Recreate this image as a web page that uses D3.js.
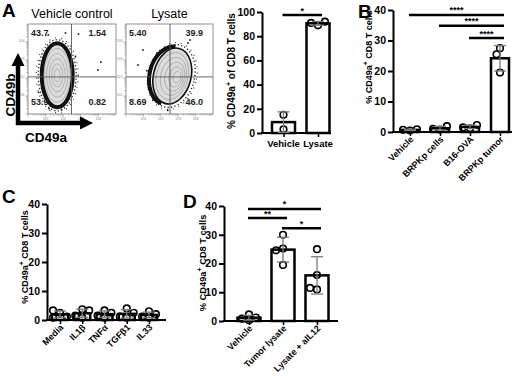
<!DOCTYPE html>
<meta charset="utf-8" />
<style>
  body { margin: 0; background: #fff; }
  svg { font-family: "Liberation Sans", Arial, sans-serif; }
</style>
<body>
<script src="https://d3js.org/d3.v7.min.js"></script>
<script>
// ---- panel A : flow plots (axes in log decades 0..5)
const flowTitles = ["Vehicle control", "Lysate"];
const flowQuadrants = [["43.7", "1.54", "53.9", "0.82"], ["5.40", "39.9", "8.69", "46.0"]];
const flowGates = [[2.47, 2.06], [2.53, 2.06]];
const flowBlobs = [
  { cx: 1.66, cy: 2.15, rx: 0.88, ry: 1.78, tilt: 0 },
  { cx: 2.66, cy: 2.11, rx: 1.08, ry: 1.58, tilt: 14 }
];
const contourLevels = [0.84, 0.68, 0.52, 0.36, 0.2];
const flowOutliers = [
  [[1.15, 4.39], [2.13, 4.5], [2.87, 4.44], [3.97, 2.44], [4.14, 2.89], [1.9, 0.25], [1.2, 0.3], [0.6, 1.2], [2.7, 3.2]],
  [[0.98, 3.56], [0.69, 2.72], [3.56, 3.94], [3.68, 4.11], [1.78, 3.39], [1.38, 1.78], [1.55, 0.78], [2.4, 0.2], [1.2, 2.4]]
];

// ---- panel A : bar chart
const aCats = ["Vehicle", "Lysate"];
const aPoints = [[15, 3], [89, 91, 92]];
const aTicks = [0, 20, 40, 60, 80, 100];
const aSig = [{ a: 0, b: 1, v: 97.5, lab: "*" }];

// ---- panel B
const bCats = ["Vehicle", "BRPKp cells", "B16-OVA", "BRPKp tumor"];
const bPoints = [[0.5, 0.7, 0.9], [0.8, 1.0, 1.9], [1.2, 1.5, 2.3], [27.5, 25.5, 19.5]];
const bTicks = [0, 10, 20, 30, 40];
const bSig = [
  { a: 0, b: 3, v: 38.4, lab: "****" },
  { a: 1, b: 3, v: 34.8, lab: "****" },
  { a: 2, b: 3, v: 30.8, lab: "****" }
];

// ---- panel C
const cCats = ["Media", "IL1\u03b2", "TNF\u03b1", "TGF\u03b21", "IL33"];
const cPoints = [
  [2.5, 0.8, 1.2, 3.3],
  [3.7, 0.8, 1.5, 3.3],
  [3.3, 0.8, 1.5, 2.5],
  [4.0, 0.8, 1.2, 2.5],
  [3.0, 0.8, 1.2, 2.0]
];
const cTicks = [0, 10, 20, 30, 40];

// ---- panel D
const dCats = ["Vehicle", "Tumor lysate", "Lysate + aIL12"];
const dPoints = [[0.3, 0.8, 1.2, 2.3], [30, 25.2, 24.6, 19.5], [25, 16, 11, 11.5]];
const dTicks = [0, 10, 20, 30, 40];
const dSig = [
  { a: 0, b: 2, v: 39, lab: "*" },
  { a: 0, b: 1, v: 35.8, lab: "**" },
  { a: 1, b: 2, v: 32.3, lab: "*" }
];

const svg = d3.select("body").append("svg").attr("width", 520).attr("height", 376);

// panel letters
[["A", 2, 17], ["B", 358, 18], ["C", 2, 203], ["D", 183, 208]].forEach(p => {
  svg.append("text").attr("x", p[1]).attr("y", p[2]).text(p[0])
    .style("font-size", "19px").style("font-weight", "bold");
});

// ---------- flow plots
const flowBoxes = [{ x0: 28, x1: 116, y0: 24, y1: 114 }, { x0: 126, x1: 213, y0: 24, y1: 114 }];

flowTitles.forEach((t, i) => {
  const b = flowBoxes[i];
  const fx = d3.scaleLinear().domain([0, 5]).range([b.x0, b.x1]);
  const fy = d3.scaleLinear().domain([0, 5]).range([b.y1, b.y0]);
  const g = svg.append("g");

  g.append("text").attr("x", (b.x0 + b.x1) / 2).attr("y", b.y0 - 6)
    .attr("text-anchor", "middle").style("font-size", "12.5px").text(t);

  // minor log ticks on left and bottom
  const tk = [];
  for (let dcd = 0; dcd < 5; dcd++) for (let m = 1; m < 10; m++) tk.push({ v: dcd + Math.log10(m), major: m === 1 });
  g.selectAll(".tx").data(tk).join("line")
    .attr("x1", d => fx(d.v)).attr("x2", d => fx(d.v))
    .attr("y1", b.y1).attr("y2", d => b.y1 + (d.major ? 3 : 1.5))
    .attr("stroke", "#999").attr("stroke-width", 0.6);
  g.selectAll(".ty").data(tk).join("line")
    .attr("y1", d => fy(d.v)).attr("y2", d => fy(d.v))
    .attr("x1", b.x0).attr("x2", d => b.x0 - (d.major ? 3 : 1.5))
    .attr("stroke", "#999").attr("stroke-width", 0.6);
  g.selectAll(".tl").data([1, 2, 3, 4]).join("text")
    .attr("x", d => fx(d)).attr("y", b.y1 + 6).attr("text-anchor", "middle")
    .style("font-size", "3.5px").attr("fill", "#888").text(d => "10" + d);
  g.selectAll(".tly").data([1, 2, 3, 4]).join("text")
    .attr("x", b.x0 - 3.5).attr("y", d => fy(d)).attr("text-anchor", "end")
    .style("font-size", "3.5px").attr("fill", "#888").text(d => "10" + d);

  // population blob
  const bl = flowBlobs[i];
  const sx = fx(1) - fx(0), sy = fy(0) - fy(1);
  const ccx = fx(bl.cx), ccy = fy(bl.cy);
  const RX = bl.rx * sx, RY = bl.ry * sy;
  const bg = g.append("g").attr("transform", `rotate(${bl.tilt},${ccx},${ccy})`);
  // scattered events outside the dense core
  bg.append("ellipse").attr("cx", ccx).attr("cy", ccy).attr("rx", RX + 3.5).attr("ry", RY + 3.5)
    .attr("fill", "none").attr("stroke", "#222").attr("stroke-width", 1.4).attr("stroke-dasharray", "1.2 2.3");
  bg.append("ellipse").attr("cx", ccx).attr("cy", ccy).attr("rx", RX + 5.5).attr("ry", RY + 5.5)
    .attr("fill", "none").attr("stroke", "#333").attr("stroke-width", 1.1).attr("stroke-dasharray", "1 5");
  // dense black rim
  bg.append("ellipse").attr("cx", ccx).attr("cy", ccy).attr("rx", RX).attr("ry", RY)
    .attr("fill", "#dcdcdc").attr("stroke", "#111").attr("stroke-width", i === 0 ? 4 : 1.6);
  if (i === 1) {
    const cid = "clipL" + i;
    svg.append("clipPath").attr("id", cid).append("rect")
      .attr("x", ccx - 40).attr("y", ccy - 40).attr("width", 36).attr("height", 80);
    bg.append("ellipse").attr("cx", ccx - 2).attr("cy", ccy).attr("rx", RX + 2).attr("ry", RY + 1)
      .attr("fill", "none").attr("stroke", "#111").attr("stroke-width", 4)
      .attr("clip-path", `url(#${cid})`);
  }
  bg.selectAll(".lvl").data(contourLevels).join("ellipse")
    .attr("cx", (d, j) => ccx + (i === 1 ? j * 1.2 : 0)).attr("cy", ccy)
    .attr("rx", d => d * RX).attr("ry", d => d * RY)
    .attr("fill", "none").attr("stroke", "#a0a0a0").attr("stroke-width", 0.7);

  // outlier events
  g.selectAll(".out").data(flowOutliers[i]).join("rect")
    .attr("x", d => fx(d[0]) - 0.8).attr("y", d => fy(d[1]) - 0.8)
    .attr("width", 1.6).attr("height", 1.6).attr("fill", "#111");

  // box + gates
  g.append("rect").attr("x", b.x0).attr("y", b.y0).attr("width", b.x1 - b.x0).attr("height", b.y1 - b.y0)
    .attr("fill", "none").attr("stroke", "#777").attr("stroke-width", 0.8);
  g.append("line").attr("x1", fx(flowGates[i][0])).attr("x2", fx(flowGates[i][0]))
    .attr("y1", b.y0).attr("y2", b.y1).attr("stroke", "#555").attr("stroke-width", 0.9);
  g.append("line").attr("y1", fy(flowGates[i][1])).attr("y2", fy(flowGates[i][1]))
    .attr("x1", b.x0).attr("x2", b.x1).attr("stroke", "#555").attr("stroke-width", 0.9);

  const q = flowQuadrants[i];
  const qpos = [[b.x0 + 3, b.y0 + 12, "start"], [b.x1 - 10, b.y0 + 12, "end"],
                [b.x0 + 3, b.y1 - 9, "start"], [b.x1 - 10, b.y1 - 9, "end"]];
  q.forEach((s, k) => {
    g.append("text").attr("x", qpos[k][0]).attr("y", qpos[k][1]).attr("text-anchor", qpos[k][2])
      .style("font-size", "9px").style("font-weight", "bold").attr("fill", "#222").text(s);
  });
});

// axis arrows
const arr = svg.append("g");
arr.append("line").attr("x1", 18).attr("y1", 125).attr("x2", 18).attr("y2", 64)
  .attr("stroke", "#000").attr("stroke-width", 4.5);
arr.append("polygon").attr("points", "18,53 11.5,66 24.5,66").attr("fill", "#000");
arr.append("line").attr("x1", 16).attr("y1", 123).attr("x2", 80).attr("y2", 123)
  .attr("stroke", "#000").attr("stroke-width", 4.5);
arr.append("polygon").attr("points", "93,123 80,116.5 80,129.5").attr("fill", "#000");
svg.append("text").attr("transform", "translate(15,95) rotate(-90)").attr("text-anchor", "middle")
  .style("font-size", "13.5px").style("font-weight", "bold").text("CD49b");
svg.append("text").attr("x", 25).attr("y", 142)
  .style("font-size", "13.5px").style("font-weight", "bold").text("CD49a");

// ---------- bar panels
function swarm(vals, cx, y, r) {
  const placed = [];
  return vals.map(v => {
    const py = y(v);
    const cands = [0, -1, 1, -2, 2, -3, 3];
    let px = cx;
    for (const k of cands) {
      const tx = cx + k * r * 1.05;
      if (placed.every(p => Math.hypot(p[0] - tx, p[1] - py) >= 2 * r - 0.3)) { px = tx; break; }
    }
    placed.push([px, py]);
    return [px, py];
  });
}

function barPanel(cfg) {
  const g = svg.append("g");
  const y = d3.scaleLinear().domain([0, 40]).range([cfg.yBottom, cfg.yTop]);
  if (cfg.domain) y.domain(cfg.domain);
  const x = d3.scalePoint().domain(cfg.cats).range(cfg.centers);

  const ya = g.append("g").attr("transform", `translate(${cfg.xAxis},0)`)
    .call(d3.axisLeft(y).tickValues(cfg.ticks).tickSize(5).tickSizeOuter(0).tickPadding(2));
  ya.select(".domain").attr("stroke-width", 2);
  ya.selectAll(".tick line").attr("stroke-width", 2);
  ya.selectAll(".tick text").style("font-size", "10.5px").style("font-weight", "bold")
    .style("font-family", "Liberation Sans, Arial, sans-serif").attr("fill", "#000");

  // x axis
  g.append("line").attr("x1", cfg.xAxis - 1).attr("x2", cfg.xEnd)
    .attr("y1", y(0)).attr("y2", y(0)).attr("stroke", "#000").attr("stroke-width", 2);
  const xa = g.append("g").attr("transform", `translate(0,${y(0)})`)
    .call(d3.axisBottom(x).tickSize(4).tickFormat(""));
  xa.select(".domain").remove();
  xa.selectAll(".tick line").attr("stroke-width", 1.5);

  const stats = cfg.points.map((p, i) => ({ c: cfg.cats[i], m: d3.mean(p), sd: d3.deviation(p), p }));

  g.selectAll(".bar").data(stats).join("rect")
    .attr("x", d => x(d.c) - cfg.bw / 2).attr("width", cfg.bw)
    .attr("y", d => y(d.m)).attr("height", d => y(0) - y(d.m))
    .attr("fill", "#fff").attr("stroke", "#000").attr("stroke-width", 2.5);

  stats.forEach(d => {
    const pts = swarm(d.p, x(d.c), y, 3.3);
    g.selectAll(null).data(pts).join("circle")
      .attr("cx", p => p[0]).attr("cy", p => p[1]).attr("r", 3.3)
      .attr("fill", "none").attr("stroke", "#000").attr("stroke-width", 1.6);
    const e = g.append("g").attr("stroke", "#7a7a7a").attr("stroke-width", 1.3);
    const cx = x(d.c), lo = y(Math.max(0, d.m - d.sd)), hi = y(d.m + d.sd);
    e.append("line").attr("x1", cx).attr("x2", cx).attr("y1", lo).attr("y2", hi);
    e.append("line").attr("x1", cx - 6).attr("x2", cx + 6).attr("y1", hi).attr("y2", hi);
    if (d.m - d.sd > 0) e.append("line").attr("x1", cx - 6).attr("x2", cx + 6).attr("y1", lo).attr("y2", lo);
  });

  (cfg.sig || []).forEach(s => {
    const x1 = x(cfg.cats[s.a]) - 1, x2 = x(cfg.cats[s.b]) + 4;
    g.append("line").attr("x1", x1).attr("x2", x2).attr("y1", y(s.v)).attr("y2", y(s.v))
      .attr("stroke", "#000").attr("stroke-width", 2.5);
    g.append("text").attr("x", (x1 + x2) / 2).attr("y", y(s.v) - 1.5).attr("text-anchor", "middle")
      .style("font-size", "9px").style("font-weight", "bold").text(s.lab);
  });

  // x labels
  if (cfg.rotate) {
    g.selectAll(".xl").data(cfg.cats).join("text")
      .attr("transform", c => `translate(${x(c) + 4},${y(0) + 8}) rotate(-45)`)
      .attr("text-anchor", "end").style("font-size", "9px").style("font-weight", "bold").text(c => c);
  } else {
    g.selectAll(".xl").data(cfg.cats).join("text")
      .attr("x", c => x(c)).attr("y", y(0) + 14).attr("text-anchor", "middle")
      .style("font-size", "9.5px").style("font-weight", "bold").text(c => c);
  }

  // y label
  const yl = g.append("text")
    .attr("transform", `translate(${cfg.lab[0]},${cfg.lab[1]}) rotate(-90)`)
    .attr("text-anchor", "middle").style("font-size", cfg.lab[2] + "px").style("font-weight", "bold");
  yl.append("tspan").text("% CD49a");
  yl.append("tspan").attr("dy", -4).style("font-size", "7px").text("+");
  yl.append("tspan").attr("dy", 4).text(cfg.of ? " of CD8 T cells" : " CD8 T cells");
}

barPanel({ cats: aCats, points: aPoints, ticks: aTicks, domain: [0, 100], sig: aSig,
  xAxis: 262, yBottom: 133, yTop: 12, centers: [283.5, 318], xEnd: 331, bw: 23,
  lab: [234.5, 71, 10], of: true });
barPanel({ cats: bCats, points: bPoints, ticks: bTicks, sig: bSig, rotate: true,
  xAxis: 393, yBottom: 132, yTop: 10, centers: [410, 500], xEnd: 512, bw: 18,
  lab: [372, 57, 9] });
barPanel({ cats: cCats, points: cPoints, ticks: cTicks, rotate: true,
  xAxis: 47, yBottom: 320, yTop: 204, centers: [60, 149], xEnd: 166, bw: 16,
  lab: [27.5, 257, 9] });
barPanel({ cats: dCats, points: dPoints, ticks: dTicks, sig: dSig, rotate: true,
  xAxis: 224, yBottom: 321, yTop: 206, centers: [249, 317], xEnd: 338, bw: 23,
  lab: [205.5, 263, 9.3] });
</script>
</body>
